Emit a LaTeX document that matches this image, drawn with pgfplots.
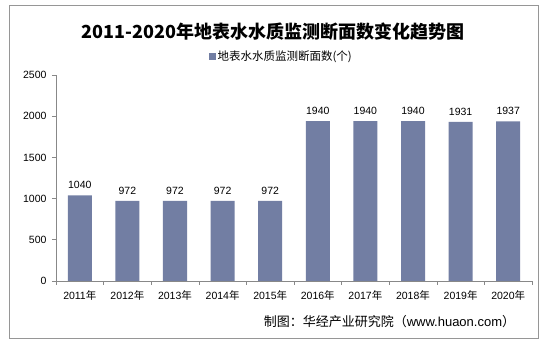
\documentclass[border=0pt]{standalone}
\usepackage{fontspec}
\setmainfont{Liberation Sans}
\newfontfamily\cjk{Noto Sans CJK SC}
\usepackage{pgfplots}
\pgfplotsset{compat=1.18}
\definecolor{barcol}{RGB}{114,126,163}
\definecolor{axcol}{RGB}{136,136,136}
\definecolor{framecol}{RGB}{150,150,150}
\begin{document}
\begin{tikzpicture}[x=1pt,y=1pt]
\fill[white] (-56,-64) rectangle (491,281);
\draw[framecol,line width=0.8pt] (-47,-57) rectangle (482,276);
\begin{axis}[
  at={(0,0)}, anchor=south west,
  scale only axis, width=476pt, height=206pt,
  xmin=-0.5, xmax=9.5, ymin=0, ymax=2500,
  ytick={0,500,1000,1500,2000,2500},
  xtick={0,...,9},
  xticklabels={2011{\cjk 年},2012{\cjk 年},2013{\cjk 年},2014{\cjk 年},2015{\cjk 年},2016{\cjk 年},2017{\cjk 年},2018{\cjk 年},2019{\cjk 年},2020{\cjk 年}},
  minor xtick={-0.5,0.5,...,9.5},
  axis x line*=bottom, axis y line*=left,
  axis line style={axcol, line width=0.6pt, -},
  tick align=outside,
  major tick length=4pt, minor tick length=4pt,
  x tick style={draw=none}, minor x tick style={axcol, line width=0.6pt, draw=axcol},
  y tick style={axcol, line width=0.6pt},
  tick label style={font=\fontsize{10.5}{12}\selectfont, text=black},
  /pgf/number format/assume math mode=true,
  /pgf/number format/set thousands separator={},
  xticklabel style={yshift=-2pt},
  yticklabel style={xshift=-2pt},
  ybar, bar width=24pt,
  nodes near coords,
  every node near coord/.append style={font=\fontsize{10.5}{12}\selectfont, text=black, yshift=3pt},
  legend style={at={(0.473,1)}, anchor=south, yshift=10pt, draw=none, fill=none, font=\fontsize{11.5}{13}\selectfont\cjk, inner sep=1pt},
  legend image code/.code={\fill[barcol] (0pt,-3.5pt) rectangle (7pt,3.5pt);},
  clip=false,
]
\addplot[fill=barcol, draw=none] coordinates {(0,1040) (1,972) (2,972) (3,972) (4,972) (5,1940) (6,1940) (7,1940) (8,1931) (9,1937)};
\addlegendentry{地表水水质监测断面数(个)}
\node[font=\fontsize{18}{20}\selectfont\cjk\bfseries] at (rel axis cs:0.456,1) [yshift=43pt] {2011-2020年地表水水质监测断面数变化趋势图};
\node[font=\fontsize{13}{15}\selectfont, anchor=east, inner sep=0pt] at (rel axis cs:0.965,0) [yshift=-41pt] {{\cjk 制图：华经产业研究院（}www.huaon.com{\cjk ）}};
\end{axis}
\end{tikzpicture}
\end{document}
